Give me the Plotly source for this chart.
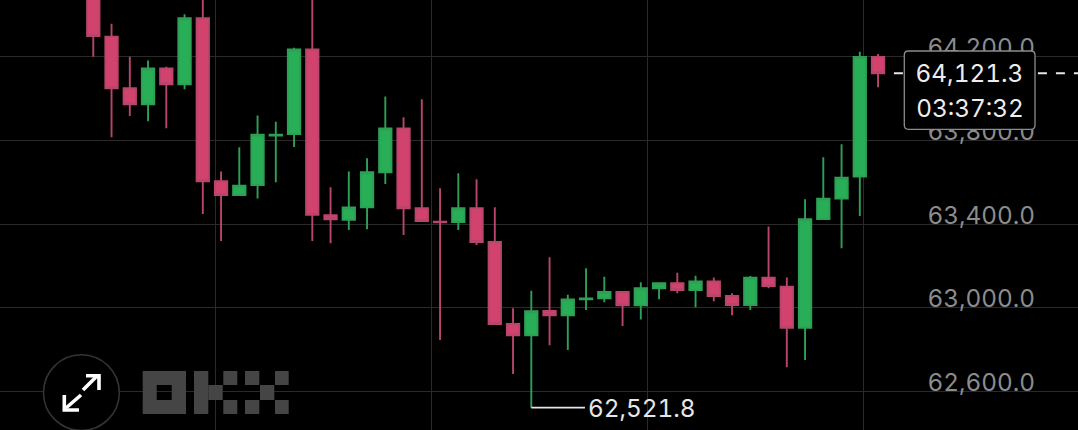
import plotly.graph_objects as go

W, H = 1078, 430

opens = [64500, 64297, 64050, 63973, 64144, 64069, 64385, 63605, 63539, 63587, 63824, 63831, 64235, 63442, 63420,
         63480, 63648, 63858, 63476, 63412, 63410, 63476, 63314, 62922, 62868, 62984, 62964, 63040, 63045, 63075,
         63011, 63093, 63117, 63085, 63126, 63056, 63013, 63144, 63100, 62904, 63424, 63522, 63627, 64200]
highs = [64560, 64358, 64201, 64182, 64153, 64404, 64520, 63651, 63768, 63919, 63890, 64244, 64520, 63576, 63651,
         63715, 64010, 63911, 63997, 63571, 63643, 63614, 63480, 62997, 63081, 63241, 63062, 63189, 63148, 63078,
         63122, 63120, 63167, 63153, 63145, 63069, 63152, 63388, 63145, 63519, 63720, 63782, 64225, 64214]
lows = [64201, 63815, 63917, 63892, 63858, 64045, 63448, 63319, 63539, 63523, 63600, 63769, 63319, 63308, 63372,
        63375, 63592, 63348, 63415, 62845, 63372, 63300, 62922, 62683, 62521.8, 62820, 62798, 62989, 63026, 62912,
        62944, 63040, 63069, 63002, 63031, 62964, 62989, 63093, 62715, 62750, 63424, 63284, 63439, 64055]
closes = [64300, 64050, 63973, 64144, 64069, 64385, 63605, 63539, 63584, 63828, 63828, 64235, 63444, 63423, 63480,
          63648, 63858, 63476, 63415, 63408, 63476, 63314, 62922, 62868, 62983, 62964, 63040, 63044, 63075, 63011,
          63093, 63117, 63085, 63126, 63056, 63013, 63144, 63104, 62904, 63423, 63522, 63622, 64200, 64121.3]
candle_index = list(range(len(opens)))

price_ticks = [64200, 63800, 63400, 63000, 62600]
price_labels = ["64,200.0", "63,800.0", "63,400.0", "63,000.0", "62,600.0"]
last_price = 64121.3
last_price_label = "64,121.3"
countdown_label = "03:37:32"
low_price = 62521.8
low_price_label = "62,521.8"

GREEN, RED = "#27ae56", "#d1436c"
GREEN_W, RED_W = "#2f9f55", "#b8456b"
GRID = "#2a2a2a"
FONT = "Inter"


def px(x):
    return x / W


def py(y):
    return 1 - y / H


def rect(x0, y0, x1, y1, color="#454545"):
    return dict(type="rect", xref="paper", yref="paper", x0=px(x0), x1=px(x1), y0=py(y0), y1=py(y1),
                fillcolor=color, line_width=0, layer="above")


def line(points, color="#ffffff", width=3.6):
    d = "M " + " L ".join(f"{px(a):.5f},{py(b):.5f}" for a, b in points)
    return dict(type="path", xref="paper", yref="paper", path=d, line=dict(color=color, width=width), layer="above")


def rounded(x0, y0, x1, y1, r):
    p = lambda a, b: f"{px(a):.5f},{py(b):.5f}"
    d = (f"M {p(x0 + r, y0)} L {p(x1 - r, y0)} Q {p(x1, y0)} {p(x1, y0 + r)} L {p(x1, y1 - r)} "
         f"Q {p(x1, y1)} {p(x1 - r, y1)} L {p(x0 + r, y1)} Q {p(x0, y1)} {p(x0, y1 - r)} L {p(x0, y0 + r)} "
         f"Q {p(x0, y0)} {p(x0 + r, y0)} Z")
    return dict(type="path", xref="paper", yref="paper", path=d, fillcolor="#000000",
                line=dict(color="#8c8c8c", width=1.3), layer="above")


fig = go.Figure()
fig.add_trace(go.Candlestick(
    x=candle_index, open=opens, high=highs, low=lows, close=closes,
    increasing=dict(line=dict(color=GREEN_W, width=1.9), fillcolor=GREEN),
    decreasing=dict(line=dict(color=RED_W, width=1.9), fillcolor=RED),
    whiskerwidth=0, showlegend=False, hoverinfo="skip",
))
fig.add_trace(go.Scatter(x=[43.87, 53.96], y=[last_price, last_price], mode="lines",
                         line=dict(color="#e6e6e6", width=2, dash="9px,9px"),
                         showlegend=False, hoverinfo="skip"))
fig.add_trace(go.Scatter(x=[24, 26.94], y=[low_price, low_price], mode="lines",
                         line=dict(color="#e6e6e6", width=1.8), showlegend=False, hoverinfo="skip"))

shapes = [rounded(904.3, 51, 1035, 129.3, 4)]
shapes.append(dict(type="circle", xref="paper", yref="paper", x0=px(43.5), x1=px(119.3), y0=py(354.8), y1=py(430.5),
                   fillcolor="#000000", line=dict(color="#333333", width=1.6), layer="above"))
shapes += [line([(83, 390), (97, 376)]), line([(86, 375.7), (99, 375.7), (99, 390)]),
           line([(81, 395), (66, 408)]), line([(64.3, 395), (64.3, 410), (79, 410)])]
# OKX mark, built from blocks
shapes += [rect(142.7, 371, 186, 385), rect(142.7, 400, 186, 414), rect(142.7, 385, 156.7, 400),
           rect(171.7, 385, 186, 400)]
shapes += [rect(194, 371, 208.3, 414), rect(208.3, 385, 222.7, 400), rect(223.3, 371, 237.3, 385),
           rect(223.3, 400, 237.3, 414)]
shapes += [rect(245, 371, 259.3, 385), rect(245, 400, 259.3, 414), rect(260, 385, 274.3, 400),
           rect(275, 371, 288.7, 385), rect(275, 400, 288.7, 414)]

annotations = [
    dict(xref="paper", yref="y", x=px(969.7), y=last_price, text=last_price_label, showarrow=False,
         font=dict(family=FONT, size=24.3, color="#ededed"), xanchor="center", yanchor="middle"),
    dict(xref="paper", yref="paper", x=px(969.7), y=py(108), text=countdown_label, showarrow=False,
         font=dict(family=FONT, size=24.3, color="#ededed"), xanchor="center", yanchor="middle"),
    dict(xref="paper", yref="y", x=px(590.5), y=low_price, text=low_price_label, showarrow=False,
         font=dict(family=FONT, size=24.3, color="#e6e6e6"), xanchor="left", yanchor="middle"),
]

fig.update_layout(
    width=W, height=H, margin=dict(l=0, r=0, t=0, b=0),
    paper_bgcolor="#000000", plot_bgcolor="#000000", showlegend=False, boxgap=0.03,
    shapes=shapes, annotations=annotations,
    xaxis=dict(range=[-5.112, 53.956], rangeslider=dict(visible=False), showticklabels=False, ticks="",
               showgrid=True, gridcolor=GRID, gridwidth=1.2, tick0=6.685, dtick=11.836, zeroline=False, showline=False),
    yaxis=dict(range=[62415, 64472], side="right", tickmode="array", tickvals=price_ticks, ticktext=price_labels,
               ticklabelposition="inside", ticklabelstandoff=40, ticklabelshift=-9,
               tickfont=dict(family=FONT, size=24.3, color="#8c8c8c"), ticks="",
               showgrid=True, gridcolor=GRID, gridwidth=1.2, zeroline=False, showline=False),
)
fig.write_html("out.html", config=dict(displayModeBar=False),
               post_script="document.body.style.margin='0';document.body.style.background='#000';"
                           "document.body.style.fontFeatureSettings=\"'tnum'\";")
